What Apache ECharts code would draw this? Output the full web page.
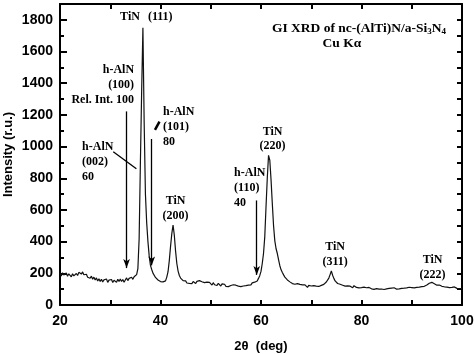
<!DOCTYPE html>
<html style="height: 100%">
<head>
    <meta charset="utf-8">
    <script src="https://cdn.jsdelivr.net/npm/echarts@6/dist/echarts.min.js"></script>
    <title>GI XRD of nc-(AlTi)N/a-Si3N4</title>
</head>
<body style="height: 100%; margin: 0; background: #fff">
<div id="container" style="width: 474px; height: 354px"></div>
<script type="text/javascript">
    // 2θ sampling of the scan: starts at 20 deg, one point every 0.25 deg
    const thetaStart = 20;
    const thetaStep = 0.25;
    // intensity (r.u.), 4 points per degree
    const intensity = [
        201, 183, 204, 189,  186, 203, 181, 197,  192, 178, 197, 184,  194, 199, 186, 206,   // 20-23
        213, 195, 209, 191,  188, 194, 175, 186,  169, 182, 163, 176,  158, 171, 152, 165,   // 24-27
        149, 163, 145, 159,  147, 164, 143, 157,  146, 161, 142, 156,  158, 143, 162, 148,   // 28-31
        164, 148, 161, 144,  158, 171, 154, 168,  161, 175, 162, 178,  176, 192, 230, 420,   // 32-35
        900, 1350, 1750, 1150,  700, 520, 400, 310,  250, 224, 201, 190,  174, 170, 158, 156, // 36-39
        148, 145, 146, 143,  152, 176, 210, 280,  370, 450, 505, 440,  340, 262, 214, 186,   // 40-43
        170, 158, 154, 145,  152, 139, 148, 136,  145, 135, 148, 138,  136, 149, 140, 154,   // 44-47
        162, 147, 157, 141,  141, 144, 132, 143,  138, 126, 141, 128,  135, 123, 137, 126,   // 48-51
        120, 133, 122, 131,  118, 129, 116, 127,  123, 114, 128, 117,  125, 132, 119, 129,   // 52-55
        116, 128, 120, 132,  122, 133, 125, 137,  127, 140, 131, 144,  140, 152, 168, 185,   // 56-59
        212, 262, 325, 430,  620, 800, 945, 915,  790, 640, 500, 405,  355, 325, 285, 248,   // 60-63
        222, 205, 190, 176,  168, 158, 152, 146,  146, 135, 143, 131,  133, 135, 128, 130,   // 64-67
        126, 127, 116, 127,  122, 111, 124, 114,  120, 109, 122, 112,  119, 122, 117, 124,   // 68-71
        124, 128, 130, 137,  145, 152, 170, 192,  215, 188, 168, 152,  143, 136, 128, 131,   // 72-75
        124, 125, 119, 119,  118, 121, 130, 119,  120, 109, 122, 111,  111, 114, 108, 111,   // 76-79
        110, 100, 113, 102,  109, 97, 111, 101,  102, 104, 99, 102,  103, 106, 100, 103,     // 80-83
        101, 101, 98, 102,  102, 92, 105, 96,  107, 97, 109, 99,  100, 103, 102, 106,        // 84-87
        105, 108, 106, 107,  108, 99, 112, 102,  110, 110, 108, 112,  111, 113, 113, 116,    // 88-91
        116, 118, 118, 122,  126, 131, 137, 140,  143, 138, 134, 128,  125, 121, 126, 118,   // 92-95
        118, 119, 115, 116,  113, 114, 110, 112,  111, 102, 114, 104,  105, 106, 103, 104,   // 96-99
        104                                                                                  // 100
    ];

    // peak labels: text lines, anchor of the first line in data units, alignment
    const peakLabels = [
        {lines: ['TiN'], at: [35.9, 1818], align: 'right'},
        {lines: ['(111)'], at: [37.5, 1818], align: 'left'},
        {lines: ['h-AlN', '(100)', 'Rel. Int. 100'], at: [34.75, 1484], align: 'right'},
        {lines: ['h-AlN', '(002)', '60'], at: [24.4, 997], align: 'left'},
        {lines: ['h-AlN', '(101)', '80'], at: [40.5, 1218], align: 'left'},
        {lines: ['TiN', '(200)'], at: [43.0, 658], align: 'center'},
        {lines: ['h-AlN', '(110)', '40'], at: [54.65, 833], align: 'left'},
        {lines: ['TiN', '(220)'], at: [62.3, 1095], align: 'center'},
        {lines: ['TiN', '(311)'], at: [74.75, 368], align: 'center'},
        {lines: ['TiN', '(222)'], at: [94.15, 284], align: 'center'}
    ];
    // h-AlN reference positions marked with arrows: [from, to]
    const arrows = [
        [[33.25, 1222], [33.25, 233]],
        [[38.25, 1048], [38.25, 250]],
        [[59.15, 660], [59.15, 190]]
    ];
    // plain pointer lines (no arrow head)
    const pointers = [
        [[30.6, 968], [35.2, 860]],
        [[38.9, 1105], [39.8, 1157]]
    ];
    const titleAt = [79.5, 1747];
    const subTitleAt = [76.1, 1648];

    const serif = '"Liberation Serif", "Times New Roman", serif';
    const sans = '"Liberation Sans", Arial, sans-serif';

    let points = intensity.map((v, i) => [thetaStart + i * thetaStep, v]);

    let markData = [];
    arrows.forEach(a => markData.push([
        {coord: a[0], symbol: 'none'},
        {coord: a[1], symbol: 'arrow', symbolSize: [5, 9]}
    ]));
    pointers.forEach((p, i) => markData.push([
        {coord: p[0], symbol: 'none', lineStyle: {width: i === 1 ? 2.5 : 1.3}},
        {coord: p[1], symbol: 'none'}
    ]));

    let axisLine = {show: true, onZero: false, lineStyle: {color: '#000', width: 2}};
    let tickLabel = {
        color: '#000', fontFamily: sans, fontWeight: 'bold', fontSize: 14,
        formatter: v => String(v)
    };

    let dom = document.getElementById('container');
    let chart = echarts.init(dom);
    chart.setOption({
        animation: false,
        backgroundColor: '#fff',
        grid: {left: 60, right: 12, top: 4, bottom: 49, containLabel: false, outerBoundsMode: 'none'},
        xAxis: [
            {
                type: 'value', min: 20, max: 100, interval: 20,
                axisLine: axisLine,
                axisTick: {inside: true, length: 5, lineStyle: {color: '#000', width: 2}},
                minorTick: {show: true, splitNumber: 2, length: 5, lineStyle: {color: '#000', width: 2}},
                axisLabel: Object.assign({margin: 9}, tickLabel),
                splitLine: {show: false},
                name: '2θ  (deg)', nameLocation: 'middle', nameGap: 35,
                nameTextStyle: {color: '#000', fontFamily: sans, fontWeight: 'bold', fontSize: 13}
            },
            {
                type: 'value', position: 'top', min: 20, max: 100, interval: 10,
                axisLine: axisLine,
                axisTick: {inside: true, length: 5, lineStyle: {color: '#000', width: 2}},
                axisLabel: {show: false},
                splitLine: {show: false}
            }
        ],
        yAxis: [
            {
                type: 'value', min: 0, max: 1900, interval: 200,
                axisLine: axisLine,
                axisTick: {inside: true, length: 7, lineStyle: {color: '#000', width: 2}},
                minorTick: {show: true, splitNumber: 2, length: 4, lineStyle: {color: '#000', width: 2}},
                axisLabel: Object.assign({margin: 7, showMaxLabel: false}, tickLabel),
                splitLine: {show: false},
                name: 'Intensity (r.u.)', nameLocation: 'middle', nameGap: 45, nameRotate: 90,
                nameMoveOverlap: false,
                nameTextStyle: {color: '#000', fontFamily: sans, fontWeight: 'bold', fontSize: 13}
            },
            {
                type: 'value', position: 'right', min: 0, max: 1900, interval: 100,
                axisLine: axisLine,
                axisTick: {inside: true, length: 5, lineStyle: {color: '#000', width: 2}},
                axisLabel: {show: false},
                splitLine: {show: false}
            }
        ],
        series: [
            {
                type: 'line',
                data: points,
                showSymbol: false,
                symbol: 'none',
                lineStyle: {color: '#111', width: 1.2},
                silent: true,
                markLine: {
                    silent: true,
                    animation: false,
                    label: {show: false},
                    lineStyle: {color: '#000', type: 'solid', width: 1.3},
                    emphasis: {disabled: true},
                    data: markData
                }
            }
        ]
    });

    // labels are anchored in data units and placed through the grid's scales
    let lineGap = 14.8;
    let graphics = [];
    peakLabels.forEach(lab => {
        let p = chart.convertToPixel({gridIndex: 0}, lab.at);
        lab.lines.forEach((t, k) => {
            graphics.push({
                type: 'text', silent: true,
                x: p[0], y: p[1] + k * lineGap,
                style: {
                    text: t, fill: '#000', font: 'bold 12px ' + serif,
                    align: lab.align, verticalAlign: 'middle'
                }
            });
        });
    });
    let tp = chart.convertToPixel({gridIndex: 0}, titleAt);
    graphics.push({
        type: 'text', silent: true, x: tp[0], y: tp[1],
        style: {
            text: '{a|GI XRD of nc-(AlTi)N/a-Si}{s|3}{a|N}{s|4}',
            align: 'center', verticalAlign: 'middle',
            rich: {
                a: {fontFamily: serif, fontWeight: 'bold', fontSize: 13.5, lineHeight: 16, fill: '#000'},
                s: {fontFamily: serif, fontWeight: 'bold', fontSize: 9, lineHeight: 8, verticalAlign: 'bottom', fill: '#000'}
            }
        }
    });
    let sp = chart.convertToPixel({gridIndex: 0}, subTitleAt);
    graphics.push({
        type: 'text', silent: true, x: sp[0], y: sp[1],
        style: {
            text: 'Cu Kα', fill: '#000', font: 'bold 13.5px ' + serif,
            align: 'center', verticalAlign: 'middle'
        }
    });
    chart.setOption({graphic: graphics});
</script>
</body>
</html>
